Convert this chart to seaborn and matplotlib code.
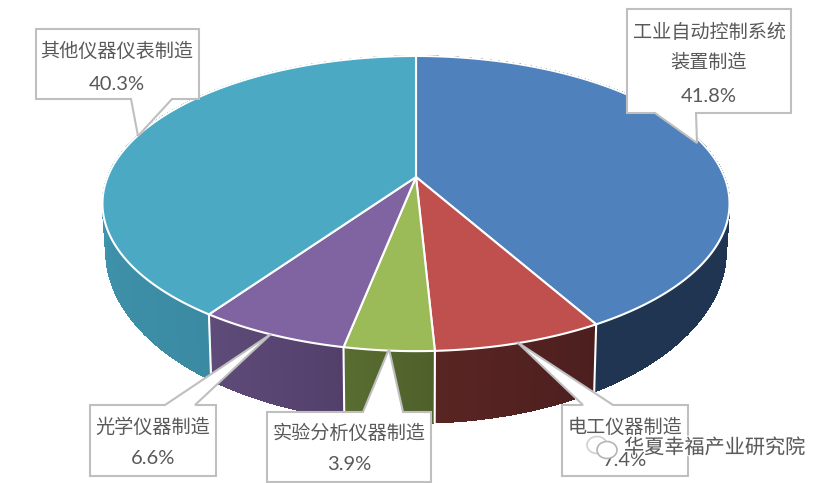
import numpy as np
import pandas as pd
import matplotlib
matplotlib.use("Agg")
import matplotlib.pyplot as plt
from matplotlib.collections import PolyCollection
from matplotlib.patches import Polygon, Ellipse
import matplotlib.patheffects as pe
import seaborn as sns

# ---- data (clockwise from 12 o'clock) ----
categories = ["工业自动控制系统\n装置制造", "电工仪器制造", "实验分析仪器制造", "光学仪器制造", "其他仪器仪表制造"]
shares = [41.8, 7.4, 3.9, 6.6, 40.3]
share_labels = ["41.8%", "7.4%", "3.9%", "6.6%", "40.3%"]

# ---- styles ----
top_colors = sns.color_palette(["#4F81BD", "#C0504D", "#9BBB59", "#8064A2", "#4BA9C4"])
wall_colors = [("#1F3551", "#1F3551"), ("#4C1F1E", "#642A27"), ("#4F602B", "#667F38"),
               ("#523F6A", "#655180"), ("#3A8AA2", "#4298B2")]
wall_visible_end = [180, 200, 210, 225, 285]

# ---- layout (pixels) ----
boxes = [(627, 791, 9, 113), (562, 688, 405, 476), (267, 431, 412, 482), (90, 216, 405, 476), (36, 199, 29, 99)]
pointers = [[(655, 697, 696), (143,)], [(583, 517, 613), (342,)], [(363, 389, 403), (349,)],
            [(165, 271, 195), (334,)], [(131, 138, 172), (136,)]]
name_y = [(32, 63), (427,), (433,), (427,), (51,)]
value_y = [96, 461, 465, 459, 84]
text_x = [709, 625, 349, 153, 117]

sns.set_theme(style="white")
plt.rcParams["font.family"] = ["Noto Sans CJK SC", "DejaVu Sans"]

fig = plt.figure(figsize=(8.3, 4.83), dpi=100)
ax = fig.add_axes([0, 0, 1, 1])
ax.set_xlim(0, 830)
ax.set_ylim(483, 0)
ax.axis("off")

CX, K = 416.0, 0.18


def rim(theta_deg, a, b, c0):
    """Perspective projection of a circle point; angle clockwise from the top."""
    t = np.radians(theta_deg)
    u, v = np.sin(t), np.cos(t)
    d = 1 + K * v
    return CX + a * u / d, c0 - b * v / d


def top(t):
    return rim(t, 308.4, 142.8, 177.0)


def bottom(t):
    return rim(t, 305.0, 166.4, 220.0)


edges = np.concatenate([[0], np.cumsum(shares)]) / sum(shares) * 360.0

# side walls
for i, (t0, t1) in enumerate(zip(edges[:-1], edges[1:])):
    cmap = sns.blend_palette(list(wall_colors[i]), as_cmap=True)
    th = np.linspace(t0, t1, int((t1 - t0) * 4) + 2)
    xt, yt = top(th)
    xb, yb = bottom(th)
    quads, cols = [], []
    end = max(wall_visible_end[i], t0 + 1)
    for j in range(len(th) - 1):
        quads.append([(xt[j], yt[j]), (xt[j + 1], yt[j + 1]), (xb[j + 1], yb[j + 1]), (xb[j], yb[j])])
        cols.append(cmap(float(np.clip((th[j] - t0) / (end - t0), 0, 1))))
    ax.add_collection(PolyCollection(quads, facecolors=cols, edgecolors=cols, linewidths=0.5,
                                     antialiaseds=False, zorder=1))

# white seams between wall panels
for t in edges[1:-1]:
    xt, yt = top(t)
    xb, yb = bottom(t)
    seam = pd.DataFrame({"x": [xt, xb], "y": [yt, yb]})
    sns.lineplot(data=seam, x="x", y="y", color="white", lw=1.5, sort=False, estimator=None, ax=ax, zorder=2)

# top face
for i, (t0, t1) in enumerate(zip(edges[:-1], edges[1:])):
    th = np.linspace(t0, t1, 200)
    xs, ys = top(th)
    pts = np.column_stack([np.r_[CX, xs], np.r_[177.0, ys]])
    ax.add_patch(Polygon(pts, closed=True, facecolor=top_colors[i], edgecolor="white", lw=1.5,
                         joinstyle="round", zorder=3))
ax.set_xlim(0, 830)
ax.set_ylim(483, 0)
ax.set_xlabel("")
ax.set_ylabel("")

# callouts
for i, name in enumerate(categories):
    x0, x1, y0, y1 = boxes[i]
    (pa, tip, pb), (tipy,) = pointers[i]
    if tipy < y0:   # pointer leaves the top edge
        pts = [(x0, y0), (pa, y0), (tip, tipy), (pb, y0), (x1, y0), (x1, y1), (x0, y1)]
    else:           # pointer leaves the bottom edge
        pts = [(x0, y0), (x1, y0), (x1, y1), (pb, y1), (tip, tipy), (pa, y1), (x0, y1)]
    ax.add_patch(Polygon(pts, closed=True, facecolor="white", edgecolor="#BFBFBF", lw=1.5, zorder=5))
    for line, y in zip(name.split("\n"), name_y[i]):
        ax.text(text_x[i], y, line, ha="center", va="center", fontsize=13.8, color="#595959", zorder=6)
    ax.text(text_x[i], value_y[i], share_labels[i], ha="center", va="center", fontsize=14.5,
            color="#595959", family=["Lato", "DejaVu Sans"], zorder=6)

# watermark
wm_fx = [pe.withStroke(linewidth=2, foreground="white", alpha=0.8)]
ax.text(624, 448, "华夏幸福产业研究院", ha="left", va="center", fontsize=14.5, color="#5a5a5a",
        path_effects=wm_fx, zorder=8)
ax.add_patch(Ellipse((597, 445), 20, 17, fill=False, ec="#d0d0d0", lw=1.2, zorder=7))
ax.add_patch(Ellipse((607, 450), 20, 17, facecolor="#ffffff", ec="#b5b5b5", lw=1.2, zorder=7))

fig.savefig("out.png", dpi=100)
